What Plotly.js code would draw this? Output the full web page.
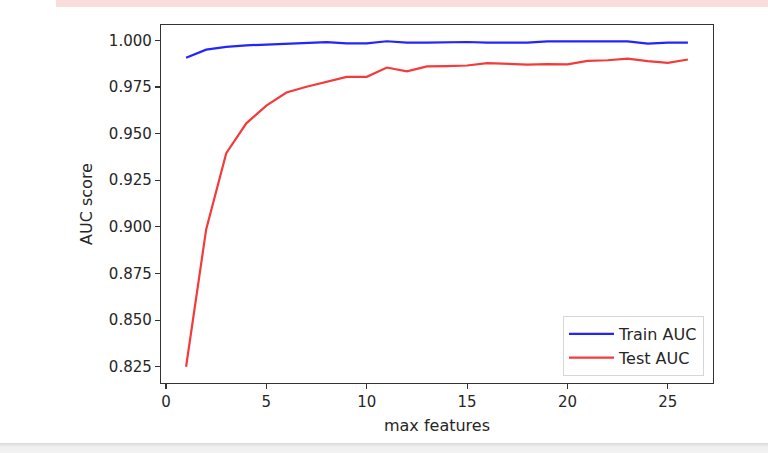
<!DOCTYPE html>
<html>
<head>
<meta charset="utf-8">
<script src="https://cdn.plot.ly/plotly-3.0.1.min.js"></script>
<style>
  html, body { margin: 0; padding: 0; background: #fff; }
  #wrap { position: relative; width: 768px; height: 453px; overflow: hidden; }
  #chart { width: 768px; height: 453px; }
  #pink { position: absolute; left: 56px; top: 0; width: 712px; height: 7px; background: #f9dcdc; pointer-events: none; }
  #gray { position: absolute; left: 0; top: 443px; width: 768px; height: 10px;
          background: linear-gradient(#d9d9d9, #efefef 40%, #f2f2f2); pointer-events: none; }
</style>
</head>
<body>
<div id="wrap">
  <div id="chart"></div>
  <div id="pink"></div>
  <div id="gray"></div>
</div>
<script>
const maxFeatures = [1,2,3,4,5,6,7,8,9,10,11,12,13,14,15,16,17,18,19,20,21,22,23,24,25,26];
const trainAUC = [0.9906,0.9950,0.9965,0.9973,0.9977,0.9980,0.9984,0.9990,0.9984,0.9984,0.9995,0.9988,0.9988,
                  0.9991,0.9991,0.9988,0.9988,0.9988,0.9994,0.9993,0.9993,0.9994,0.9994,0.9982,0.9987,0.9988];
const testAUC = [0.8250,0.8986,0.9395,0.9555,0.9650,0.9720,0.9751,0.9778,0.9804,0.9804,0.9854,0.9834,0.9860,
                 0.9862,0.9865,0.9878,0.9872,0.9870,0.9872,0.9871,0.9890,0.9893,0.9902,0.9888,0.9879,0.9897];
const seriesNames = ["Train AUC", "Test AUC"];
const xTitle = "max features";
const yTitle = "AUC score";

const font = "DejaVu Sans, sans-serif";
const textColor = "#262626";

const traces = [
  { x: maxFeatures, y: trainAUC, name: seriesNames[0], type: "scatter", mode: "lines",
    line: { color: "#2424ff", width: 2.2 } },
  { x: maxFeatures, y: testAUC, name: seriesNames[1], type: "scatter", mode: "lines",
    line: { color: "#f43a3a", width: 2.2 } }
];

const axisCommon = {
  showgrid: false, zeroline: false, showline: true, mirror: true,
  linecolor: "#333333", linewidth: 1.2,
  ticks: "outside", ticklen: 5, tickwidth: 1.2, tickcolor: "#333333",
  tickfont: { family: font, size: 15, color: textColor }
};

const layout = {
  width: 768, height: 453,
  margin: { l: 161, r: 55, t: 25, b: 70 },
  paper_bgcolor: "#ffffff", plot_bgcolor: "#ffffff",
  showlegend: true,
  xaxis: Object.assign({}, axisCommon, {
    range: [-0.25, 27.25], dtick: 5, tick0: 0,
    title: { text: xTitle, font: { family: font, size: 16, color: textColor }, standoff: 9 }
  }),
  yaxis: Object.assign({}, axisCommon, {
    range: [0.8163, 1.0082], dtick: 0.025, tick0: 0.825, tickformat: ".3f",
    title: { text: yTitle, font: { family: font, size: 16, color: textColor }, standoff: 12 }
  }),
  legend: {
    x: 0.9837, y: 0.0196, xanchor: "right", yanchor: "bottom",
    bgcolor: "#ffffff", bordercolor: "#d6d6d6", borderwidth: 1,
    font: { family: font, size: 16, color: textColor },
    itemwidth: 45
  }
};

Plotly.newPlot("chart", traces, layout, { displayModeBar: false, staticPlot: true });
</script>
</body>
</html>
